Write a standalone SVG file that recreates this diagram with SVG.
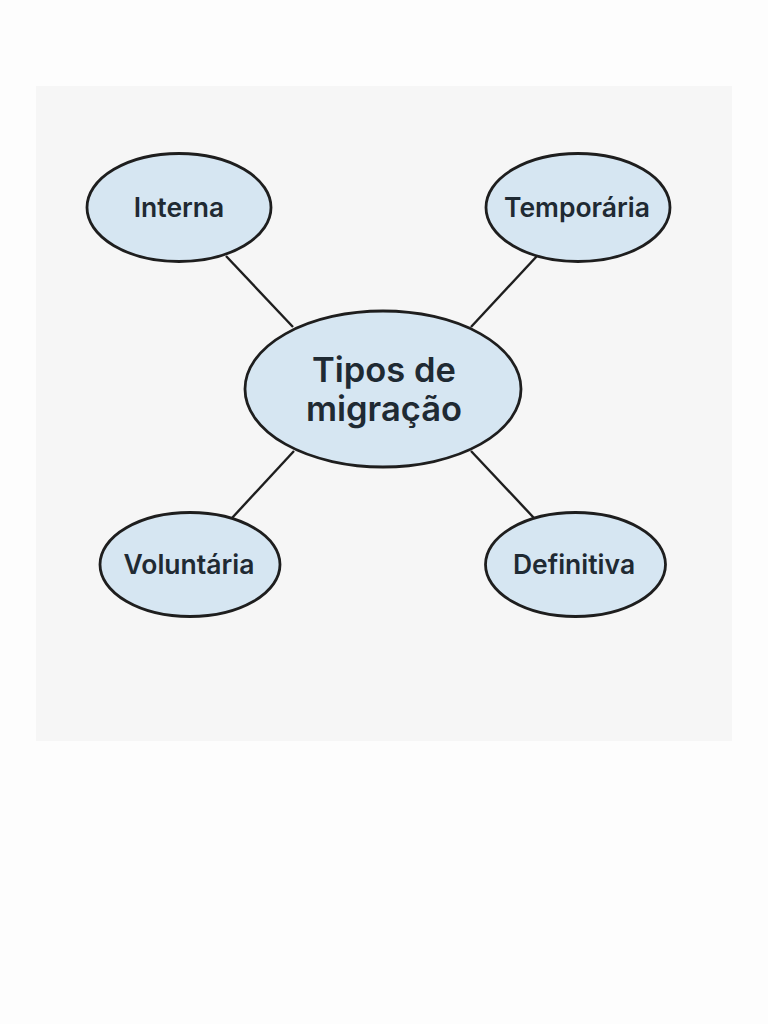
<svg xmlns="http://www.w3.org/2000/svg" width="768" height="1024" viewBox="0 0 768 1024">
<style>
.node{fill:#d6e6f2;stroke:#1e1e1e;stroke-width:2.8}
.lbl{font-family:Inter,"Noto Sans","Liberation Sans",sans-serif;font-weight:600;fill:#1f2a33;text-anchor:middle}
.s{font-size:26.5px}
.b{font-size:34.5px}
.edge{stroke:#1e1e1e;stroke-width:2.4;fill:none}
</style>
<rect width="768" height="1024" fill="#fdfdfd"/>
<rect x="36" y="86" width="696" height="655" fill="#f6f6f6"/>
<g id="connectors">
<line class="edge" x1="226" y1="256" x2="293" y2="327"/>
<line class="edge" x1="537" y1="256" x2="471" y2="327"/>
<line class="edge" x1="232" y1="518" x2="294" y2="451"/>
<line class="edge" x1="534" y1="518" x2="471" y2="451"/>
</g>
<g id="center">
<ellipse class="node" cx="383" cy="389" rx="138" ry="78"/>
<text class="lbl b" x="384" y="382">Tipos de</text>
<text class="lbl b" x="384" y="421">migração</text>
</g>
<g id="interna">
<ellipse class="node" cx="179" cy="207.5" rx="92" ry="54"/>
<text class="lbl s" x="179" y="217">Interna</text>
</g>
<g id="temporaria">
<ellipse class="node" cx="578" cy="207.5" rx="92" ry="54"/>
<text class="lbl s" x="577" y="217">Temporária</text>
</g>
<g id="voluntaria">
<ellipse class="node" cx="190" cy="564.5" rx="90" ry="52"/>
<text class="lbl s" x="189" y="574">Voluntária</text>
</g>
<g id="definitiva">
<ellipse class="node" cx="575.5" cy="564.5" rx="90" ry="52"/>
<text class="lbl s" x="574" y="574">Definitiva</text>
</g>
</svg>
